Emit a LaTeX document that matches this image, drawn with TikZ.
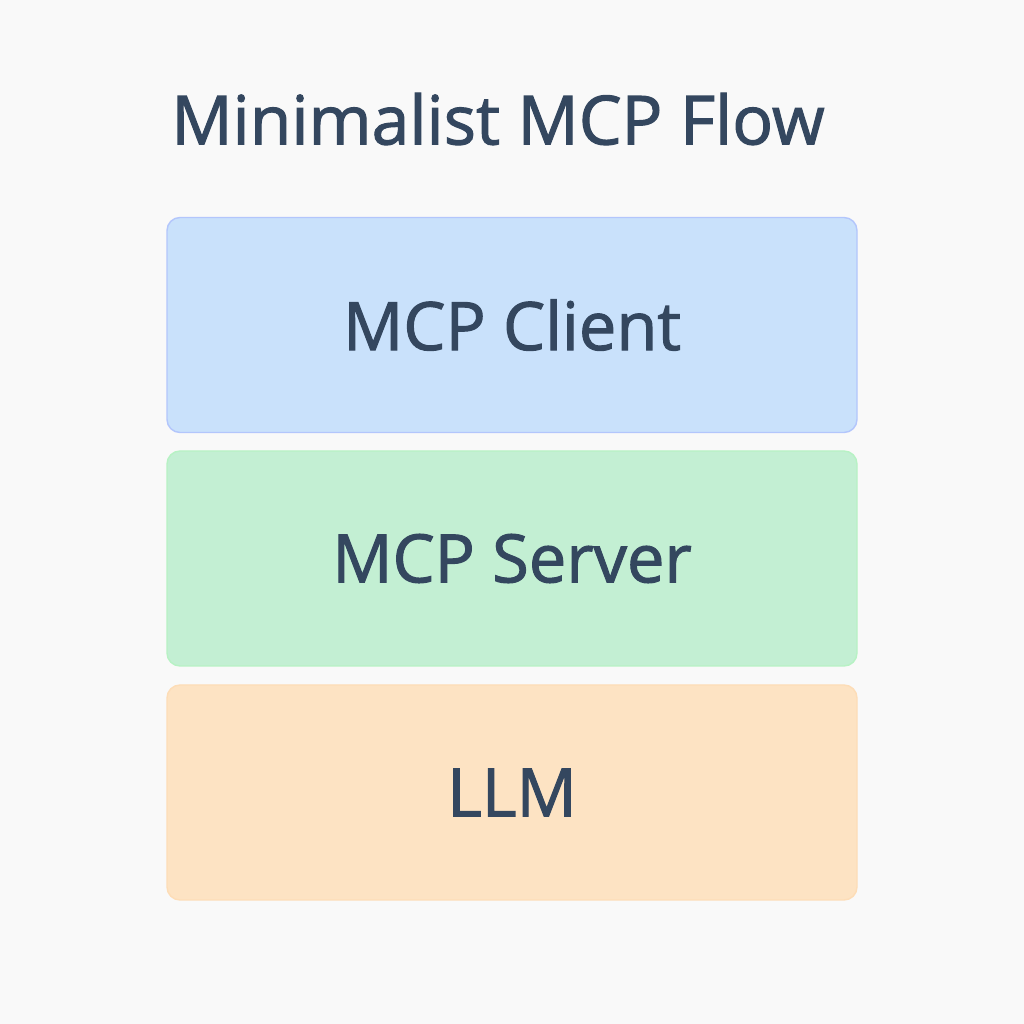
\documentclass[tikz,border=0pt]{standalone}
\usepackage{fontspec}
\setmainfont{Open Sans}
\newfontfamily\medfont{Open Sans}[FakeBold=1.6]
\definecolor{bgcol}{HTML}{F9F9F9}
\definecolor{txtcol}{HTML}{34475F}
\definecolor{clientcol}{HTML}{C9E1FB}
\definecolor{servercol}{HTML}{C3EFD3}
\definecolor{llmcol}{HTML}{FDE3C3}
\begin{document}
\begin{tikzpicture}[
    layer/.style={rounded corners=0.13cm, minimum width=6.9cm, minimum height=2.15cm, text=txtcol, font=\medfont\fontsize{19}{23}\selectfont}
    ]
        % Canvas
        \fill[bgcol] (0,0) rectangle (10.24,10.24);

        % Title
        \node[text=txtcol, font=\medfont\fontsize{19.3}{23}\selectfont] (title) at (4.98,9.05) {Minimalist MCP Flow};

        % Stack of layers
        \node[layer, fill=clientcol, draw=clientcol!85!blue!90] (client) at (5.12,6.99) {MCP Client};
        \node[layer, fill=servercol, draw=servercol!90!green!90] (server) at (5.12,4.655) {MCP Server};
        \node[layer, fill=llmcol, draw=llmcol!90!orange!90] (llm) at (5.12,2.315) {LLM};
    \end{tikzpicture}
\end{document}
